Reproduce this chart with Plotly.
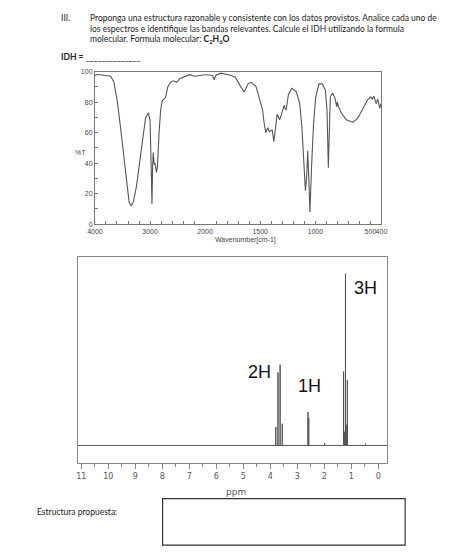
import numpy as np
import plotly.graph_objects as go

W, H = 474, 554

# IR spectrum (wavenumber cm-1, %T)
ir_wn = [4000, 3977, 3900, 3800, 3714, 3655, 3596, 3538, 3480, 3421, 3380, 3345,
         3304, 3246, 3187, 3129, 3082, 3029, 3000, 2982, 2965, 2953, 2942, 2924,
         2912, 2883, 2865, 2836, 2807, 2778, 2719, 2678, 2632, 2573, 2515, 2456,
         2339, 2281, 2193, 2105, 2000, 1991, 1932, 1918, 1903, 1859, 1786, 1728,
         1684, 1646, 1611, 1581, 1537, 1499, 1479, 1464, 1449, 1440, 1429, 1415,
         1405, 1391, 1376, 1361, 1347, 1323, 1303, 1282, 1274, 1265, 1244, 1215,
         1172, 1142, 1122, 1104, 1090, 1078, 1069, 1060, 1049, 1034, 1016, 996,
         967, 938, 909, 894, 882, 873, 864, 844, 821, 806, 800, 790, 762, 718,
         659, 615, 571, 527, 498, 483, 469, 448, 433, 416, 404, 400]
ir_t = [97.5, 98, 98, 97.5, 97, 93, 81, 64, 45, 25, 14.5, 12,
        14.5, 25, 40, 57.5, 69.5, 73, 68, 42.5, 13.4, 38, 47, 39,
        40, 34, 38, 60, 75, 81, 83, 90, 93, 94, 93, 95.5,
        97, 98, 97, 97.5, 98, 98, 97.5, 94.7, 97.5, 99, 98, 96.5,
        91, 86.7, 92, 93, 90, 81, 75, 66, 60, 62, 63, 60.5,
        61, 62, 54, 66, 72, 68.5, 74, 78, 75.5, 75, 85, 89,
        86.7, 79, 64, 42.5, 22, 31.7, 48, 31.7, 8, 38, 66, 83.5,
        92, 92, 88, 75, 37, 60, 83.5, 86, 82.5, 77, 80, 77, 72.7, 68.4,
        66.7, 69.5, 76, 81.4, 83.5, 82, 84, 79, 82, 76, 79, 78]

# 1H NMR lines (ppm, relative height)
nmr_ppm = [3.80, 3.72, 3.64, 3.56, 2.61, 2.58, 1.99, 1.29, 1.25, 1.22, 1.19, 1.15, 0.48]
nmr_h = [10.7, 42.5, 47, 12.6, 19.5, 16, 1.2, 43, 8, 100, 12, 38, 1]
nmr_labels = ["2H", "1H", "3H"]
nmr_label_ppm = [4.41, 2.54, 0.47]
nmr_label_h = [43, 34.5, 91.4]

ir_wn = np.array(ir_wn)
ir_t = np.array(ir_t)
hi = ir_wn >= 2000
lo = ir_wn <= 2000

# stick spectrum along a baseline
x_range = [11.13, -0.32]
nx, ny = [x_range[0]], [0]
for p, h in sorted(zip(nmr_ppm, nmr_h), reverse=True):
    nx += [p, p, p]
    ny += [0, h, 0]
nx.append(x_range[1])
ny.append(0)


def px(x):
    return x / W


def py(y):
    return 1 - y / H


fig = go.Figure()
fig.add_trace(go.Scatter(x=ir_wn[hi], y=ir_t[hi], mode="lines", xaxis="x", yaxis="y",
                         line=dict(color="#555", width=1.1), hoverinfo="skip"))
fig.add_trace(go.Scatter(x=ir_wn[lo], y=ir_t[lo], mode="lines", xaxis="x2", yaxis="y2",
                         line=dict(color="#555", width=1.1), hoverinfo="skip"))
fig.add_trace(go.Scatter(x=nx, y=ny, mode="lines", xaxis="x3", yaxis="y3",
                         line=dict(color="#555", width=1), hoverinfo="skip"))

tick_font = dict(family="Liberation Sans", size=7, color="#444")
frame = "#777"

fig.update_layout(
    width=W, height=H, margin=dict(l=0, r=0, t=0, b=0),
    paper_bgcolor="white", plot_bgcolor="white", showlegend=False,
    xaxis=dict(domain=[px(90), px(204)], range=[4000, 2000], anchor="y",
               tickvals=[4000, 3000, 2000], ticks="inside", ticklen=3, tickangle=0,
               tickcolor=frame, tickfont=tick_font, showgrid=False, zeroline=False,
               showline=True, mirror=True, linecolor=frame, linewidth=1,
               minor=dict(tick0=4000, dtick=200, ticks="inside", ticklen=3, tickcolor=frame)),
    xaxis2=dict(domain=[px(204), px(386.5)], range=[2000, 400], anchor="y2",
                tickvals=[1500, 1000, 500, 400], ticks="inside", ticklen=3, tickangle=0,
                tickcolor=frame, tickfont=tick_font, showgrid=False, zeroline=False,
                showline=True, mirror=True, linecolor=frame, linewidth=1,
                minor=dict(tick0=2000, dtick=100, ticks="inside", ticklen=3, tickcolor=frame)),
    yaxis=dict(domain=[py(223), py(68.5)], range=[0, 100], anchor="x",
               tickvals=[0, 20, 40, 60, 80, 100], ticks="inside", ticklen=3,
               tickcolor=frame, tickfont=tick_font, showgrid=False, zeroline=False,
               showline=True, linecolor=frame, linewidth=1,
               minor=dict(dtick=10, ticks="inside", ticklen=3, tickcolor=frame)),
    yaxis2=dict(domain=[py(223), py(68.5)], range=[0, 100], anchor="x2", side="right",
                showticklabels=False, ticks="", showgrid=False, zeroline=False,
                showline=True, linecolor=frame, linewidth=1),
    xaxis3=dict(domain=[px(72.3), px(392.3)], range=x_range, anchor="y3",
                tickvals=list(range(0, 12)), ticks="outside", ticklen=5,
                tickcolor="#888", showgrid=False, zeroline=False,
                tickfont=dict(family="DejaVu Sans", size=8, color="#555"),
                showline=True, mirror=True, linecolor="#888", linewidth=1,
                minor=dict(dtick=0.5, tick0=0, ticks="outside", ticklen=3, tickcolor="#888")),
    yaxis3=dict(domain=[py(465), py(256)], range=[-10.3, 109.8], anchor="x3",
                showticklabels=False, ticks="", showgrid=False, zeroline=False,
                showline=True, mirror=True, linecolor="#888", linewidth=1),
)

body = dict(family="Lato", size=8.5, color="#222")
lines = [
    "Proponga una estructura razonable y consistente con los datos provistos. Analice cada uno de",
    "los espectros e identifique las bandas relevantes. Calcule el IDH utilizando la formula",
    "molecular. Formula molecular: <b>C<sub>2</sub>H<sub>6</sub>O</b>",
]
ann = [dict(x=px(53), y=py(14), text="III.", font=body)]
for i, t in enumerate(lines):
    ann.append(dict(x=px(83), y=py(14 + 11 * i), text=t, font=body))
ann.append(dict(x=px(53), y=py(54), text="<b>IDH =</b> ______________", font=body))
ann.append(dict(x=px(67), y=py(150), text="%T", font=tick_font))
ann.append(dict(x=px(212), y=py(239), text="Wavenumber[cm-1]", font=tick_font))
ann.append(dict(x=px(224), y=py(494), text="ppm",
                font=dict(family="DejaVu Sans", size=9, color="#555")))
ann.append(dict(x=px(28), y=py(515), text="Estructura propuesta:", font=body))
for a in ann:
    a.update(xref="paper", yref="paper", xanchor="left", yanchor="middle", showarrow=False)

for lab, xp, yh in zip(nmr_labels, nmr_label_ppm, nmr_label_h):
    ann.append(dict(x=xp, y=yh, xref="x3", yref="y3", text=lab, showarrow=False,
                    xanchor="center", yanchor="middle",
                    font=dict(family="Liberation Sans", size=18, color="#111")))

fig.update_layout(annotations=ann)
fig.add_shape(type="rect", xref="paper", yref="paper",
              x0=px(160), x1=px(411), y0=py(548), y1=py(501),
              line=dict(color="#333", width=1.2))

fig.write_html("out.html", config={"displayModeBar": False},
               post_script="document.body.style.margin='0';")
